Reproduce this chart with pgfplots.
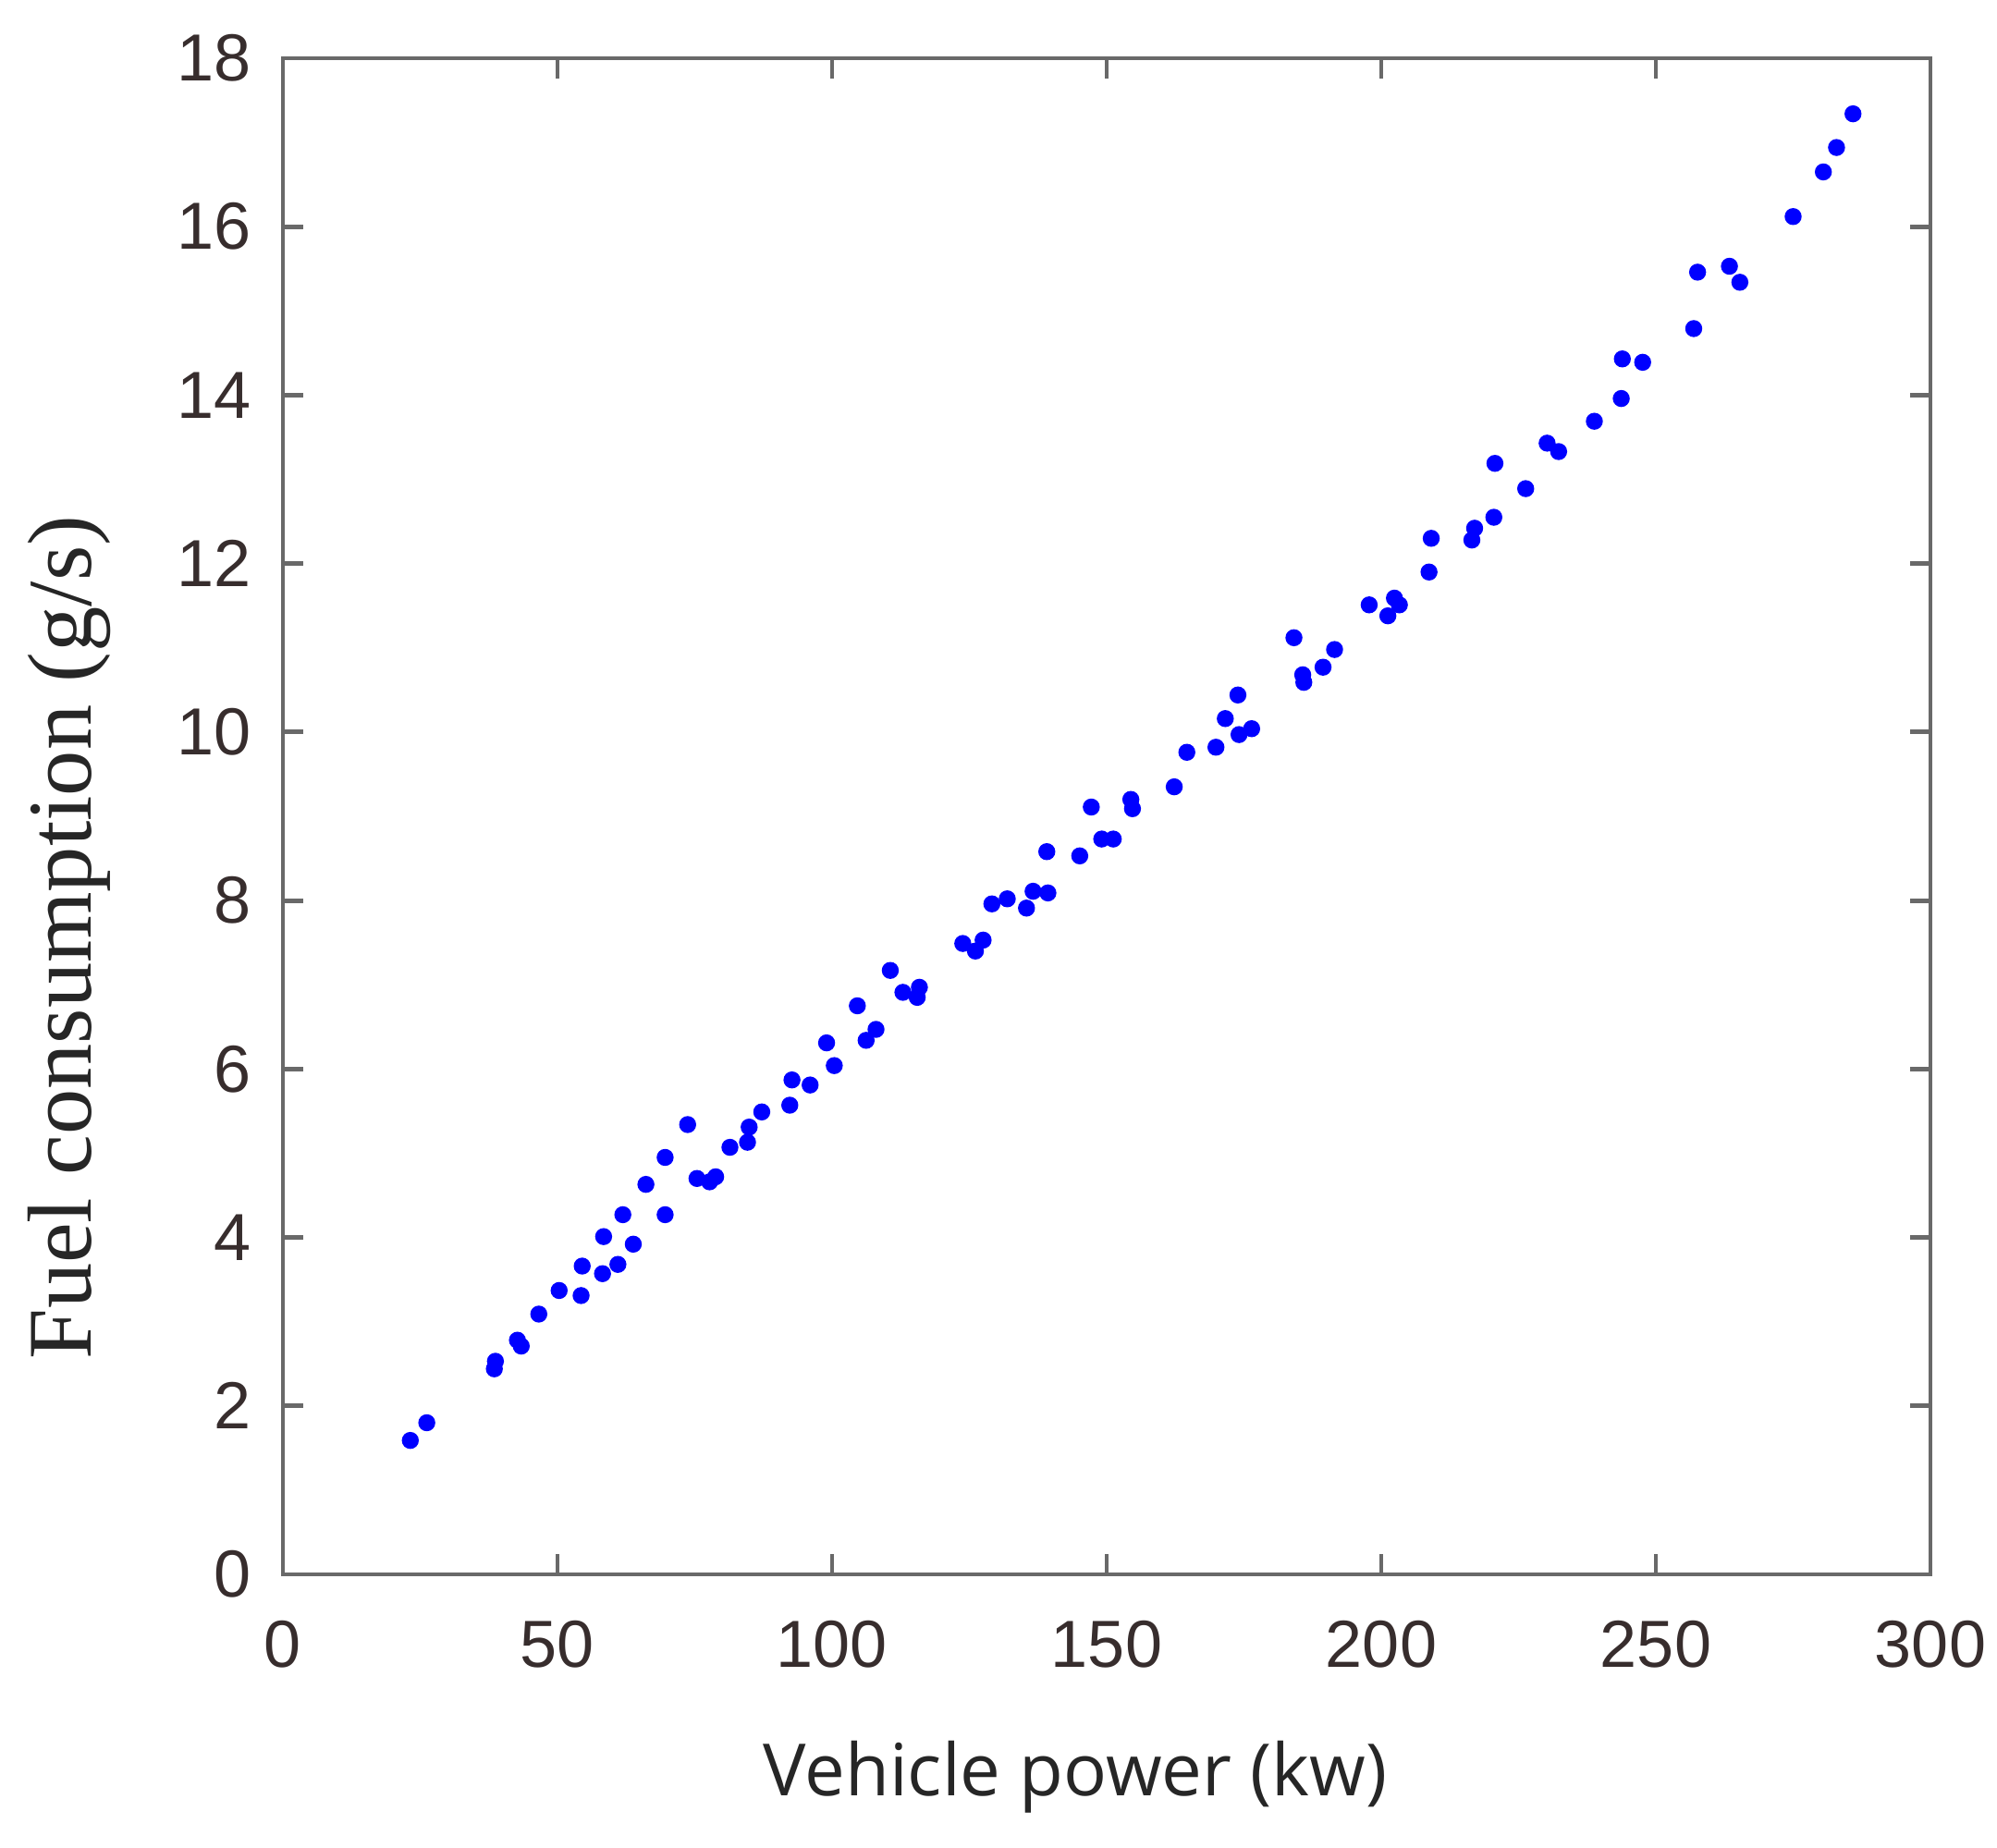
\documentclass[border=0pt]{standalone}
\usepackage{fontspec}
\setmainfont{Liberation Sans}
\newfontfamily\serifl{Liberation Serif}
\newfontfamily\opensans{Open Sans}
\usepackage{pgfplots}
\pgfplotsset{compat=1.18}
\definecolor{framegray}{RGB}{105,105,105}
\definecolor{ticktext}{RGB}{55,45,45}
\begin{document}
\begin{tikzpicture}
\begin{axis}[
  width=445.5pt, height=410pt, scale only axis,
  xmin=0, xmax=300, ymin=0, ymax=18,
  xtick={0,50,...,300}, ytick={0,2,...,18},
  tick align=inside, major tick length=5.5pt,
  axis line style={framegray, line width=1.2pt},
  every tick/.style={framegray, line width=1.2pt},
  /pgf/number format/assume math mode=true,
  tick label style={font=\fontsize{18}{20}\selectfont, text=ticktext},
  xticklabel style={yshift=-9pt},
  yticklabel style={xshift=-5pt},
  xlabel={Vehicle power (kw)},
  ylabel={Fuel consumption (g/s)},
  xlabel style={font=\opensans\fontsize{19.5}{22}\selectfont, text=black!85, at={(axis description cs:0.481,-0.1463)}, anchor=base},
  ylabel style={font=\serifl\fontsize{24.6}{28}\selectfont, text=black!85, at={(axis description cs:-0.1162,0.42)}, anchor=base},
]
\addplot[only marks, mark=*, mark size=2.1pt, blue, mark options={draw=blue, fill=blue}] coordinates {
(23.2,1.59) (26.2,1.80) (38.5,2.44) (38.7,2.53) (42.7,2.78) (43.4,2.71)
(46.6,3.09) (50.3,3.37) (54.3,3.31) (54.5,3.66) (58.2,3.57) (58.4,4.01)
(61.0,3.68) (61.9,4.27) (63.8,3.92) (66.1,4.63) (69.6,4.27) (69.6,4.95)
(73.7,5.34) (75.4,4.70) (77.7,4.66) (78.8,4.72) (81.4,5.07) (84.6,5.13)
(84.9,5.31) (87.2,5.49) (92.3,5.57) (92.7,5.87) (96.0,5.81) (99.0,6.31)
(100.4,6.04) (104.6,6.75) (106.2,6.34) (108.0,6.47) (110.6,7.17) (112.9,6.91)
(115.5,6.85) (115.9,6.97) (123.8,7.49) (126.1,7.40) (127.5,7.53) (129.1,7.96)
(131.9,8.02) (135.4,7.91) (136.6,8.11) (139.3,8.09) (139.1,8.58) (145.1,8.53)
(147.2,9.11) (149.1,8.73) (151.2,8.73) (154.4,9.20) (154.7,9.09) (162.3,9.35)
(164.6,9.76) (169.9,9.82) (171.6,10.16) (173.9,10.44) (174.1,9.97) (176.4,10.04)
(184.1,11.12) (185.7,10.68) (185.9,10.59) (189.4,10.77) (191.5,10.98) (197.8,11.51)
(201.2,11.38) (202.4,11.59) (203.3,11.51) (208.7,11.90) (209.1,12.30) (216.5,12.28)
(217.0,12.42) (220.5,12.55) (220.7,13.19) (226.3,12.89) (230.2,13.43) (232.3,13.33)
(238.8,13.69) (243.7,13.96) (243.9,14.43) (247.6,14.39) (256.9,14.79) (257.6,15.46)
(263.4,15.53) (265.3,15.34) (275.0,16.12) (280.5,16.65) (282.9,16.94) (285.9,17.34)
};
\end{axis}
\pgfresetboundingbox
\path[use as bounding box] (-76.5pt,-74pt) rectangle (463.5pt,425.75pt);
\end{tikzpicture}
\end{document}
